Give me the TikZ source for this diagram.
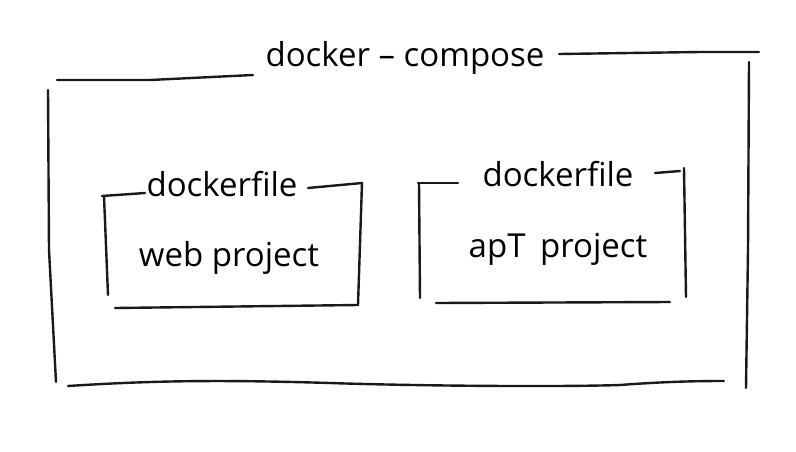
\documentclass[tikz,border=0pt]{standalone}
\usepackage{fontspec}
\setmainfont{Open Sans}
\begin{document}
\begin{tikzpicture}[x=1pt,y=-1pt,
  pen/.style={line width=2.4pt,line cap=round,line join=round,black!90},
  lbl/.style={font=\fontsize{33}{35}\selectfont, inner sep=0pt, anchor=center}]
\useasboundingbox (0,0) rectangle (796,451);
% outer frame
\draw[pen] (57,80) -- (150,80) -- (253,75);
\draw[pen] (559,54) -- (700,52) -- (759,52);
\draw[pen] (48,90) -- (49,250) -- (56,382);
\draw[pen] (749,62) -- (748,250) -- (746,388);
\draw[pen] (68,386) .. controls (160,380) and (230,380) .. (330,383) .. controls (420,386) and (560,387) .. (620,385) .. controls (660,382) and (690,381) .. (724,381);
\node[lbl] (title) at (405,58) {docker -- compose};
% left box
\draw[pen] (102,196) -- (145,193);
\draw[pen] (308,188) -- (362,183);
\draw[pen] (104,196) -- (108,295);
\draw[pen] (362,183) -- (358,305);
\draw[pen] (115,308) -- (358,305);
\node[lbl] (df1) at (222,184) {dockerfile};
\node[lbl] (web) at (229,258) {web project};
% right box
\draw[pen] (418,183) -- (458,183);
\draw[pen] (655,173) -- (680,171);
\draw[pen] (419,183) -- (420,298);
\draw[pen] (684,168) -- (686,297);
\draw[pen] (436,303) -- (670,302);
\node[lbl] (df2) at (558,174) {dockerfile};
\node[lbl] (api) at (558,249) {apT\hspace{6pt} project};
\end{tikzpicture}
\end{document}
